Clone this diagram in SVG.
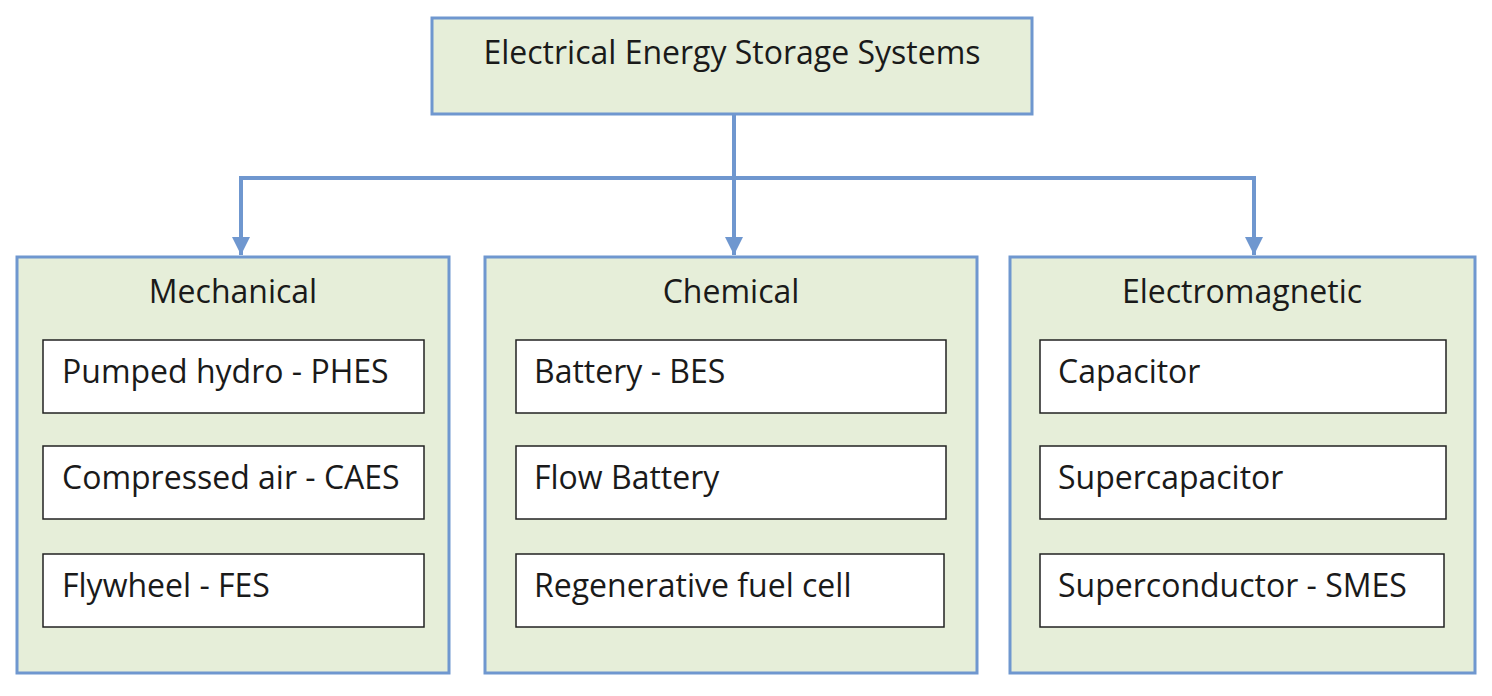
<svg xmlns="http://www.w3.org/2000/svg" width="1492" height="696" viewBox="0 0 1492 696">
<defs>
<style>
.g{fill:#e6eed9;stroke:#6f97cf;stroke-width:3}
.w{fill:#fff;stroke:#222;stroke-width:1.5}
text{font-family:"Open Sans","Noto Sans",sans-serif;font-size:32px;fill:#1a1a1a}
.c{stroke:#6f97cf;stroke-width:4;fill:none}
</style>
<marker id="a" viewBox="0 0 10 10" refX="10" refY="5" markerWidth="4.5" markerHeight="5" orient="auto"><path d="M0,0L10,5L0,10z" fill="#6f97cf"/></marker>
</defs>
<rect width="1492" height="696" fill="#fff"/>
<g id="root"><rect class="g" x="432" y="18" width="600" height="96"/><text x="732" y="64" text-anchor="middle">Electrical Energy Storage Systems</text></g>
<g id="connectors">
<path class="c" d="M734,114V178"/>
<path class="c" d="M241,178H1254"/>
<path class="c" d="M241,176V255" marker-end="url(#a)"/>
<path class="c" d="M734,176V255" marker-end="url(#a)"/>
<path class="c" d="M1254,176V255" marker-end="url(#a)"/>
</g>
<g id="mechanical"><rect class="g" x="17" y="257" width="432" height="416"/><text x="233" y="303" text-anchor="middle">Mechanical</text>
<rect class="w" x="43" y="340" width="381" height="73"/><text x="62" y="383">Pumped hydro - PHES</text>
<rect class="w" x="43" y="446" width="381" height="73"/><text x="62" y="489">Compressed air - CAES</text>
<rect class="w" x="43" y="554" width="381" height="73"/><text x="62" y="597">Flywheel - FES</text></g>
<g id="chemical"><rect class="g" x="485" y="257" width="492" height="416"/><text x="731" y="303" text-anchor="middle">Chemical</text>
<rect class="w" x="516" y="340" width="430" height="73"/><text x="534" y="383">Battery - BES</text>
<rect class="w" x="516" y="446" width="430" height="73"/><text x="534" y="489">Flow Battery</text>
<rect class="w" x="516" y="554" width="428" height="73"/><text x="534" y="597">Regenerative fuel cell</text></g>
<g id="electromagnetic"><rect class="g" x="1010" y="257" width="465" height="416"/><text x="1242" y="303" text-anchor="middle">Electromagnetic</text>
<rect class="w" x="1040" y="340" width="406" height="73"/><text x="1058" y="383">Capacitor</text>
<rect class="w" x="1040" y="446" width="406" height="73"/><text x="1058" y="489">Supercapacitor</text>
<rect class="w" x="1040" y="554" width="404" height="73"/><text x="1058" y="597">Superconductor - SMES</text></g>
</svg>
